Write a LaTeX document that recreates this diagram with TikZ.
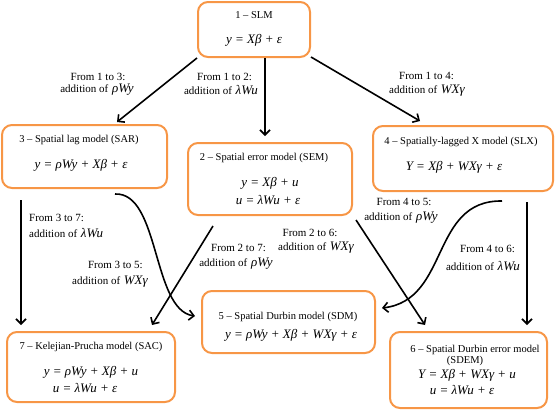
\documentclass[tikz,border=0pt]{standalone}
\usepackage{fontspec}
\setmainfont{Liberation Serif}
\usetikzlibrary{arrows.meta}
\definecolor{boxorange}{RGB}{247,150,70}
\newcommand\eqf[1]{{\fontsize{13}{15}\selectfont\itshape #1}}
\newcommand\lbm[1]{\hspace{1pt}{\fontsize{13}{14}\selectfont\itshape #1}}
\begin{document}
\begin{tikzpicture}[x=1pt,y=-1pt,
  box/.style={draw=boxorange, line width=2pt, rounded corners=10pt, outer sep=0pt, inner sep=0pt},
  ttl/.style={inner sep=0pt, font=\fontsize{10.5}{12}\selectfont},
  eqn/.style={inner sep=0pt},
  lab/.style={inner sep=0pt, font=\fontsize{11}{13}\selectfont},
  arr/.style={line width=1.6pt, -{Straight Barb[length=5pt,width=10pt]}}]
\useasboundingbox (0,0) rectangle (555,410);
% boxes
\node[box, minimum width=112pt, minimum height=55pt] (b1) at (254,29.5) {};
\node[box, minimum width=165pt, minimum height=63pt] (b3) at (84.5,156.5) {};
\node[box, minimum width=164pt, minimum height=72pt] (b2) at (270,179) {};
\node[box, minimum width=180pt, minimum height=65pt] (b4) at (463,158.5) {};
\node[box, minimum width=173pt, minimum height=62pt] (b5) at (288.5,322) {};
\node[box, minimum width=168pt, minimum height=70pt] (b7) at (91,367) {};
\node[box, minimum width=157pt, minimum height=76pt] (b6) at (468.5,370) {};
% box texts
\node[ttl] (t1a) at (254,15) {1 – SLM};
\node[eqn] (t1b) at (254,40) {\eqf{y = Xβ + ε}};
\node[ttl] (t3a) at (79,140) {3 – Spatial lag model (SAR)};
\node[eqn] (t3b) at (81,165) {\eqf{y = ρWy + Xβ + ε}};
\node[ttl] (t2a) at (264,158) {2 – Spatial error model (SEM)};
\node[eqn] (t2b) at (270,183) {\eqf{y = Xβ + u}};
\node[eqn] (t2c) at (268,200) {\eqf{u = λWu + ε}};
\node[ttl] (t4a) at (461,142) {4 – Spatially-lagged X model (SLX)};
\node[eqn] (t4b) at (454,167) {\eqf{Y = Xβ + WXγ + ε}};
\node[ttl] (t5a) at (288,317) {5 – Spatial Durbin model (SDM)};
\node[eqn] (t5b) at (291,335) {\eqf{y = ρWy + Xβ + WXγ + ε}};
\node[ttl] (t7a) at (91,347) {7 – Kelejian-Prucha model (SAC)};
\node[eqn] (t7b) at (91,372) {\eqf{y = ρWy + Xβ + u}};
\node[eqn] (t7c) at (85,388) {\eqf{u = λWu + ε}};
\node[ttl] (t6a) at (475,350) {6 – Spatial Durbin error model};
\node[ttl] (t6b) at (465,361) {(SDEM)};
\node[eqn] (t6c) at (467,375) {\eqf{Y = Xβ + WXγ + u}};
\node[eqn] (t6d) at (462,390) {\eqf{u = λWu + ε}};
% connectors
\draw[arr] ([xshift=-1pt,yshift=-1pt]b1.south west) -- ([xshift=32.5pt,yshift=3pt]b3.north);
\draw[arr] ([xshift=11pt,yshift=-1pt]b1.south) -- ([xshift=-5pt,yshift=7pt]b2.north);
\draw[arr] ([xshift=1pt]b1.south east) -- ([xshift=-43pt,yshift=5pt]b4.north);
\draw[arr] ([xshift=-63.5pt,yshift=-12pt]b3.south) -- ([xshift=-70pt,yshift=7pt]b7.north);
\draw[arr] ([xshift=30.5pt,yshift=-6pt]b3.south) .. controls +(45,-2) and +(-43,-6) .. ([xshift=-7pt,yshift=6pt]b5.west);
\draw[arr] ([xshift=-57pt,yshift=-11pt]b2.south) -- ([xshift=61pt,yshift=7pt]b7.north);
\draw[arr] ([xshift=4pt,yshift=-5pt]b2.south east) -- ([xshift=-43.5pt,yshift=7pt]b6.north);
\draw[arr] ([xshift=39pt,yshift=-10pt]b4.south) .. controls +(-72,-1) and +(68,-8) .. ([xshift=7pt,yshift=14pt]b5.east);
\draw[arr] ([xshift=-26pt,yshift=-11pt]b4.south east) -- ([xshift=-20pt,yshift=7pt]b6.north east);
% labels
\node[lab] (l13a) at (98,77) {From 1 to 3:};
\node[lab] (l13b) at (97,90) {addition of \lbm{ρWy}};
\node[lab] (l12a) at (224.5,77) {From 1 to 2:};
\node[lab] (l12b) at (221,90) {addition of \lbm{λWu}};
\node[lab] (l14a) at (426.5,76) {From 1 to 4:};
\node[lab] (l14b) at (427,91) {addition of \lbm{WXγ}};
\node[lab, anchor=west] (l37a) at (29,218) {From 3 to 7:};
\node[lab, anchor=west] (l37b) at (29,233) {addition of \lbm{λWu}};
\node[lab, anchor=east] (l35a) at (143,265) {From 3 to 5:};
\node[lab, anchor=east] (l35b) at (148,282) {addition of \lbm{WXγ}};
\node[lab] (l27a) at (238.5,248) {From 2 to 7:};
\node[lab] (l27b) at (236,264) {addition of \lbm{ρWy}};
\node[lab] (l26a) at (310,233) {From 2 to 6:};
\node[lab] (l26b) at (316,248) {addition of \lbm{WXγ}};
\node[lab] (l45a) at (404,202) {From 4 to 5:};
\node[lab] (l45b) at (401,218) {addition of \lbm{ρWy}};
\node[lab] (l46a) at (487.5,249) {From 4 to 6:};
\node[lab] (l46b) at (483,266) {addition of \lbm{λWu}};
\end{tikzpicture}
\end{document}
